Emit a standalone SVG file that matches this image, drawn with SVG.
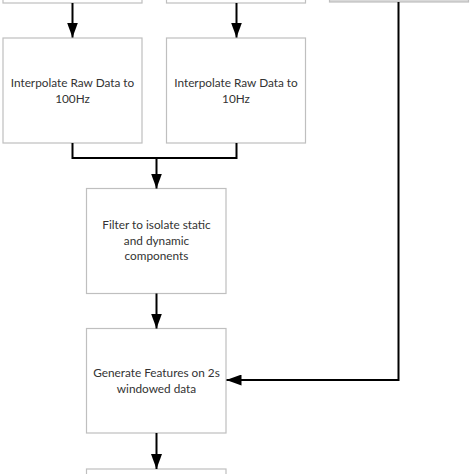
<svg xmlns="http://www.w3.org/2000/svg" width="474" height="474" viewBox="0 0 474 474">
<style>
.box{fill:#ffffff;stroke:#bfbfbf;stroke-width:1.2}
.grey{fill:#d9d9d9;stroke:#bfbfbf;stroke-width:1.2}
.lbl{font-family:Lato,"Open Sans",sans-serif;font-size:11.8px;fill:#333333;text-anchor:middle}
.ln{fill:none;stroke:#000000;stroke-width:2}
</style>
<defs>
<marker id="ah" markerWidth="15" markerHeight="11" refX="15" refY="5.5" orient="auto" markerUnits="userSpaceOnUse" viewBox="0 0 15 11">
<path d="M0,0 L15,5.5 L0,11 Z" fill="#000"/>
</marker>
</defs>
<rect width="474" height="474" fill="#ffffff"/>
<g id="top-left"><rect class="box" x="3" y="-40" width="139" height="43"/></g>
<g id="top-mid"><rect class="box" x="166.5" y="-40" width="139" height="43"/></g>
<g id="top-right"><rect class="grey" x="329.5" y="-40" width="139" height="42"/></g>
<g id="interp100"><rect class="box" x="3" y="38" width="139" height="105"/>
<text class="lbl" x="72.5" y="87">Interpolate Raw Data to</text>
<text class="lbl" x="72.5" y="103">100Hz</text></g>
<g id="interp10"><rect class="box" x="166.5" y="38" width="139" height="105"/>
<text class="lbl" x="236" y="87">Interpolate Raw Data to</text>
<text class="lbl" x="236" y="103">10Hz</text></g>
<g id="filter"><rect class="box" x="86.5" y="188.5" width="139.5" height="105"/>
<text class="lbl" x="156.5" y="229">Filter to isolate static</text>
<text class="lbl" x="156.5" y="244.5">and dynamic</text>
<text class="lbl" x="156.5" y="260">components</text></g>
<g id="features"><rect class="box" x="86.5" y="328.5" width="139.5" height="104.5"/>
<text class="lbl" x="156.5" y="377">Generate Features on 2s</text>
<text class="lbl" x="156.5" y="392.5">windowed data</text></g>
<g id="bottom"><rect class="box" x="86.5" y="469" width="139.5" height="40"/></g>
<g id="connectors">
<path class="ln" d="M72.5,3 V37.5" marker-end="url(#ah)"/>
<path class="ln" d="M236.5,3 V37.5" marker-end="url(#ah)"/>
<path class="ln" d="M72.5,143 V158 H236.5 V143"/>
<path class="ln" d="M156.5,158 V188.5" marker-end="url(#ah)"/>
<path class="ln" d="M156.5,293.5 V328.5" marker-end="url(#ah)"/>
<path class="ln" d="M398.5,2 V380 H226.5" marker-end="url(#ah)"/>
<path class="ln" d="M156.5,433 V469" marker-end="url(#ah)"/>
</g>
</svg>
